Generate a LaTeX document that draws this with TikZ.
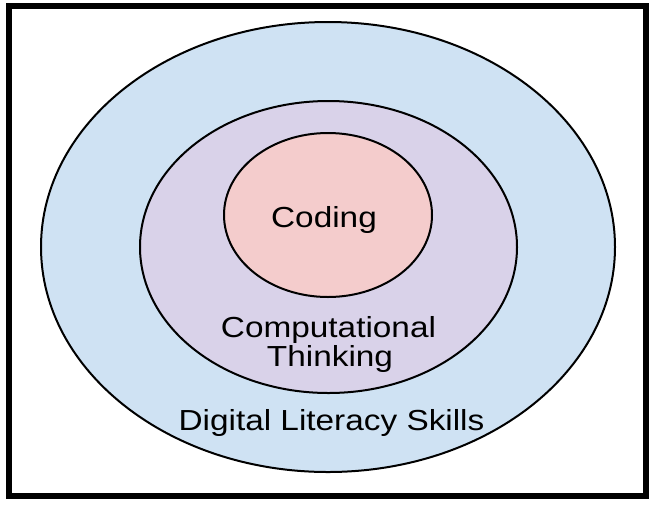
\documentclass[tikz,border=0pt]{standalone}
\usepackage{fontspec}
\setmainfont{Liberation Sans}[FakeStretch=1.15]
\usepackage{tikz,xcolor}
\usetikzlibrary{shapes.geometric}
\definecolor{dlsblue}{HTML}{CFE2F3}
\definecolor{ctpurple}{HTML}{D9D2E9}
\definecolor{codpink}{HTML}{F4CCCC}
\tikzstyle{ring} = [ellipse, draw, line width=2pt, inner sep=0pt, outer sep=0pt]
\tikzstyle{word} = [anchor=base, inner sep=0pt, font=\fontsize{29}{29}\selectfont]

\begin{document}
\begin{tikzpicture}[x=1pt, y=-1pt]
\useasboundingbox (0,0) rectangle (666,515);
\draw[line width=6.5pt] (9,6) rectangle (646,496);
\node[ring, fill=dlsblue, minimum width=574, minimum height=450] (dls) at (328,247) {};
\node[ring, fill=ctpurple, minimum width=377, minimum height=292] (ct) at (328.5,247) {};
\node[ring, fill=codpink, minimum width=208, minimum height=164] (cod) at (328,215) {};
\node[word] (codtext) at (324,227) {Coding};
\node[word] (cttext) at (328.5,337) {Computational};
\node[word] (ctline) at (330,366) {Thinking};
\node[word] (dlstext) at (331.5,430) {Digital Literacy Skills};
\end{tikzpicture}
\end{document}
